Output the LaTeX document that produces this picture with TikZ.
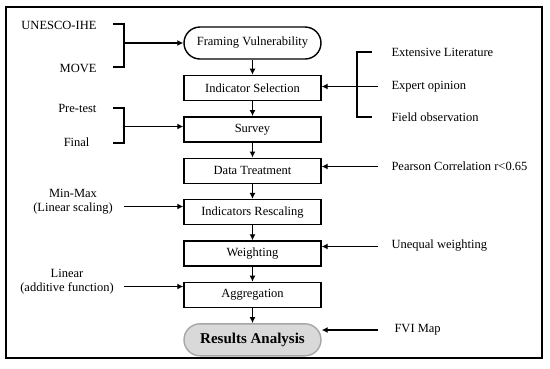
\documentclass[tikz,border=0pt]{standalone}
\usepackage{fontspec}
\setmainfont{Liberation Serif}
\usetikzlibrary{arrows.meta,positioning}

\begin{document}
\begin{tikzpicture}[x=1pt,y=-1pt,
  every node/.style={font=\fontsize{12.5}{14.5}\selectfont},
  stepbox/.style={draw,line width=1.4pt,minimum width=137pt,minimum height=25pt,inner sep=2pt},
  capbox/.style={stepbox,rounded corners=16pt,minimum height=32pt},
  flow/.style={-{Latex[length=6pt,width=6pt]},line width=1.3pt},
  brace/.style={line width=1.3pt},
  node distance=15pt]
  \path[use as bounding box] (0,0) rectangle (550,368);
  \draw[line width=1.5pt] (6,7) rectangle (542,358);

  % Main chain of steps.
  \node[capbox] (frame) at (252.5,43) {Framing Vulnerability};
  \node[stepbox,below=of frame] (sel) {Indicator Selection};
  \node[stepbox,below=of sel] (survey) {Survey};
  \node[stepbox,below=of survey] (treat) {Data Treatment};
  \node[stepbox,below=of treat] (rescale) {Indicators Rescaling};
  \node[stepbox,below=of rescale] (weight) {Weighting};
  \node[stepbox,below=of weight] (aggr) {Aggregation};
  \node[capbox,below=of aggr,fill=gray!30,draw=gray!70,
    font=\fontsize{15}{16}\selectfont\bfseries] (result) {Results Analysis};
  \foreach \a/\b in {frame/sel,sel/survey,survey/treat,treat/rescale,
    rescale/weight,weight/aggr,aggr/result}
    \draw[flow] (\a) -- (\b);

  % Left inputs.
  \node[anchor=east] (unesco) at (100,25) {UNESCO-IHE};
  \node[anchor=east] (move) at (100,68) {MOVE};
  \draw[brace] (113,24) -| (124,67) -- (113,67);
  \coordinate (bA) at (124,43);
  \draw[flow] (bA) -- (bA -| frame.west);
  \node[anchor=east] (pretest) at (100,108) {Pre-test};
  \node[anchor=east] (final) at (93,142) {Final};
  \draw[brace] (113,108) -| (124,143) -- (113,143);
  \coordinate (bB) at (124,126.5);
  \draw[flow] (bB) -- (bB -| survey.west);
  \node[align=center] (minmax) at (73,201.5) {Min-Max\\(Linear scaling)};
  \coordinate (mA) at (124,206.5);
  \draw[flow] (mA) -- (mA -| rescale.west);
  \node[align=center] (linear) at (67,281.5) {Linear\\(additive function)};
  \coordinate (lA) at (124,286.5);
  \draw[flow] (lA) -- (lA -| aggr.west);

  % Right inputs.
  \node[anchor=west] (lit) at (388,52) {Extensive Literature};
  \node[anchor=west] (expert) at (388,87) {Expert opinion};
  \node[anchor=west] (field) at (388,117) {Field observation};
  \draw[brace] (372,52) -| (357,117) -- (372,117);
  \coordinate (rA) at (378,86.5);
  \draw[flow] (rA) -- (rA -| sel.east);
  \node[anchor=west] (pearson) at (388,166) {Pearson Correlation r<0.65};
  \coordinate (rB) at (378,166.5);
  \draw[flow] (rB) -- (rB -| treat.east);
  \node[anchor=west] (unequal) at (388,246) {Unequal weighting};
  \coordinate (rC) at (378,246.5);
  \draw[flow] (rC) -- (rC -| weight.east);
  \node[anchor=west] (fvi) at (391,330) {FVI Map};
  \coordinate (rD) at (378,330);
  \draw[flow] (rD) -- (rD -| result.east);
\end{tikzpicture}
\end{document}
